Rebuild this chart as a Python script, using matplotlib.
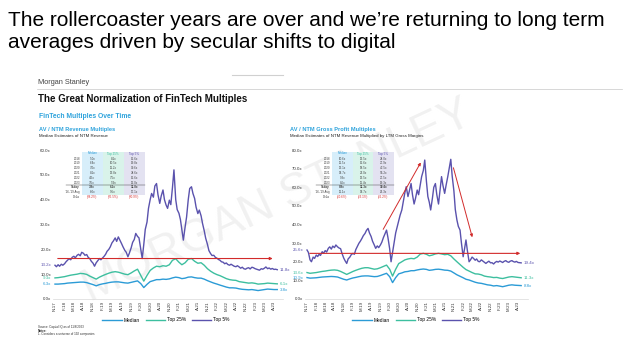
import matplotlib.pyplot as plt
import matplotlib.patches as mpatches
from matplotlib.lines import Line2D
import pandas as pd

plt.rcParams['font.family'] = ['Liberation Sans', 'DejaVu Sans']

W, H = 638, 359

# ---- data ----
months = pd.date_range('2017-11-01', periods=71, freq='MS')
half_months = pd.date_range('2017-11-01', periods=141, freq='SMS')
tick_dates = pd.date_range('2017-11-01', '2023-08-01', freq='3MS')
tick_labels = ['N-17', 'F-18', 'M-18', 'A-18', 'N-18', 'F-19', 'M-19', 'A-19',
               'N-19', 'F-20', 'M-20', 'A-20', 'N-20', 'F-21', 'M-21', 'A-21',
               'N-21', 'F-22', 'M-22', 'A-22', 'N-22', 'F-23', 'M-23', 'A-23']
series_names = ['Median', 'Top 25%', 'Top 5%']

# AV / NTM revenue multiples
rev_top5 = [13.6, 13.0, 13.8, 13.2, 14.0, 13.6, 14.2, 15.0, 15.6, 16.2,
            15.8, 16.8, 17.2, 16.6, 17.6, 18.0, 17.4, 18.8, 18.4, 17.6,
            17.9, 16.8, 16.2, 15.2, 14.4, 13.2, 14.6, 15.4, 16.3, 15.8,
            16.6, 17.2, 18.0, 19.2, 20.0, 21.0, 22.6, 23.4, 24.6, 23.2,
            25.0, 23.8, 22.3, 21.0, 19.6, 18.8, 17.0, 18.5, 20.6, 22.8,
            24.0, 26.4, 25.2, 24.6, 20.0, 16.3, 22.0, 28.0, 31.0, 36.5,
            40.0, 42.5, 41.0, 45.5, 46.5, 42.0, 38.5, 41.5, 43.9, 40.0,
            37.8, 36.5, 39.8, 38.0, 45.0, 52.0, 40.0, 36.0, 34.5, 32.0,
            28.0, 23.7, 29.0, 33.0, 40.0, 44.5, 45.2, 42.5, 40.5, 37.0,
            34.4, 35.8, 33.5, 30.4, 27.5, 24.5, 22.0, 19.5, 18.3, 17.5,
            17.6, 16.8, 16.4, 15.9, 15.6, 15.0, 14.8, 14.2, 14.5, 13.9,
            13.6, 14.0, 13.6, 13.2, 13.0, 13.4, 12.9, 12.4, 12.8, 12.2,
            12.0, 12.4, 12.6, 12.1, 12.8, 12.6, 12.2, 12.0, 11.8, 11.6,
            12.2, 12.0, 12.4, 12.9, 12.2, 12.5, 12.0, 12.3, 11.9, 12.0,
            11.8]
rev_top25 = [8.5, 8.6, 8.8, 9.0, 9.3, 9.6, 9.8, 10.0, 10.3, 10.2,
             9.9, 9.2, 8.6, 8.0, 8.8, 9.4, 9.9, 10.4, 10.8, 11.0,
             10.8, 10.4, 10.0, 9.8, 10.5, 11.3, 12.0, 9.5, 7.2, 9.5,
             11.5, 12.5, 13.2, 13.0, 13.4, 13.2, 13.8, 15.6, 16.2, 14.8,
             13.8, 14.6, 16.0, 16.3, 15.2, 14.4, 14.6, 13.6, 12.2, 11.2,
             10.4, 9.8, 9.4, 8.8, 8.2, 7.8, 7.6, 7.5, 7.0, 6.8,
             6.6, 6.4, 6.5, 6.3, 6.0, 6.1, 6.2, 6.4, 6.3, 6.2,
             6.1]
rev_median = [6.0, 6.0, 6.1, 6.2, 6.4, 6.5, 6.6, 6.7, 6.8, 6.8,
              6.6, 6.2, 5.8, 5.3, 5.8, 6.1, 6.3, 6.6, 6.8, 6.9,
              6.9, 6.7, 6.5, 6.4, 6.7, 7.0, 7.3, 6.2, 4.6, 5.9,
              7.0, 7.4, 7.8, 7.8, 8.0, 7.9, 8.1, 8.5, 8.8, 8.6,
              8.2, 8.4, 8.8, 8.9, 8.6, 8.4, 8.4, 8.0, 7.4, 6.9,
              6.4, 6.0, 5.6, 5.2, 4.8, 4.5, 4.5, 4.4, 4.1, 3.9,
              3.8, 3.7, 3.8, 3.6, 3.4, 3.6, 3.8, 4.0, 3.9, 3.8,
              3.8]

# AV / NTM gross profit multiples
gp_top5 = [26.3, 25.0, 21.0, 20.0, 22.5, 21.8, 23.6, 22.8, 24.0, 23.4,
           25.4, 24.6, 26.0, 25.2, 27.2, 28.0, 26.8, 28.4, 27.6, 29.0,
           28.0, 27.4, 27.0, 24.5, 22.0, 20.5, 19.1, 21.5, 22.5, 23.8,
           24.5, 24.0, 26.5, 28.0, 29.9, 31.0, 32.5, 34.0, 35.2, 36.8,
           37.9, 35.5, 33.5, 31.0, 29.0, 27.2, 28.5, 27.6, 29.0, 30.5,
           33.0, 34.8, 37.0, 33.0, 27.0, 20.0, 25.0, 30.0, 35.5, 38.5,
           42.0, 45.0, 47.8, 52.0, 57.0, 60.3, 55.0, 58.0, 62.0, 56.0,
           51.0, 54.0, 58.5, 56.0, 61.0, 65.7, 69.0, 74.6, 63.0, 55.0,
           52.0, 47.8, 54.0, 60.0, 62.0, 56.0, 51.0, 58.0, 65.7, 61.0,
           56.7, 61.0, 65.7, 70.0, 75.0, 66.0, 58.0, 48.0, 42.4, 39.0,
           37.0, 30.0, 22.7, 27.0, 31.7, 26.0, 20.0, 21.0, 22.5, 21.8,
           20.8, 21.5, 20.2, 20.0, 21.0, 20.4, 19.6, 19.1, 19.8, 20.3,
           19.4, 19.5, 18.8, 19.6, 20.2, 19.8, 20.4, 20.0, 19.6, 20.2,
           20.6, 20.0, 19.7, 20.3, 20.6, 20.1, 19.8, 20.2, 19.6, 19.5,
           19.4]
gp_top25 = [14.2, 13.8, 14.0, 14.2, 14.5, 14.8, 15.0, 15.3, 15.5, 15.6,
            15.4, 14.8, 14.0, 13.2, 14.0, 14.8, 15.4, 16.0, 16.5, 16.8,
            16.8, 16.4, 16.0, 16.2, 16.8, 17.5, 18.2, 16.0, 12.3, 16.0,
            19.0, 20.0, 21.0, 21.5, 21.8, 21.6, 22.5, 24.1, 24.5, 24.0,
            23.2, 23.6, 24.2, 24.5, 24.2, 23.8, 24.0, 23.2, 21.5, 20.0,
            18.5, 17.0, 15.8, 15.0, 14.2, 13.5, 13.4, 13.0, 12.3, 12.0,
            11.8, 11.5, 11.6, 11.2, 11.0, 11.4, 11.8, 12.0, 11.8, 11.6,
            11.4]
gp_median = [11.5, 11.2, 11.3, 11.4, 11.6, 11.8, 11.9, 12.0, 12.1, 12.0,
             11.8, 11.2, 10.6, 10.2, 10.8, 11.3, 11.6, 12.0, 12.3, 12.4,
             12.4, 12.2, 12.0, 12.1, 12.6, 13.2, 13.8, 12.0, 8.8, 11.5,
             13.5, 14.0, 14.6, 14.8, 15.2, 15.2, 15.6, 15.9, 16.1, 15.9,
             15.4, 15.6, 15.9, 16.0, 15.8, 15.5, 15.4, 15.0, 14.0, 13.0,
             12.2, 11.4, 10.6, 10.2, 9.6, 9.0, 8.6, 8.4, 8.0, 7.6,
             7.4, 7.0, 7.2, 6.9, 6.6, 7.0, 7.4, 7.6, 7.4, 7.3,
             7.2]

rev_start_labels = ['6.3x', '9.3x', '13.2x']
rev_end_labels = ['3.8x', '6.1x', '11.8x']
gp_start_labels = ['10.9x', '13.6x', '25.6x']
gp_end_labels = ['8.8x', '11.3x', '19.4x']

rev_avg_line = 16.3
gp_avg_line = 24.5
gp_trend_dates = [('2019-11-15', '2020-12-20'), ('2021-10-20', '2022-05-10')]
gp_trend_values = [(36.1, 74.6), (71.9, 31.7)]

table_rows = ['2018', '2019', '2020', '2021', '2022', '2023', 'Today', "'16-'19 Avg", 'Delta']
rev_tbl_median = ['5.0x', '6.4x', '7.0x', '8.1x', '4.5x', '3.5x', '3.8x', '6.0x', '(38.2%)']
rev_tbl_top25 = ['8.1x', '10.5x', '11.2x', '13.8x', '7.5x', '5.9x', '6.1x', '9.5x', '(35.5%)']
rev_tbl_top5 = ['15.6x', '19.8x', '30.6x', '34.6x', '15.6x', '12.0x', '11.8x', '17.1x', '(30.9%)']
gp_tbl_median = ['10.6x', '11.5x', '13.1x', '14.7x', '9.3x', '8.6x', '8.8x', '11.1x', '(20.6%)']
gp_tbl_top25 = ['13.5x', '15.6x', '18.5x', '22.0x', '13.5x', '11.4x', '11.3x', '14.7x', '(23.1%)']
gp_tbl_top5 = ['24.0x', '27.9x', '42.5x', '55.2x', '27.5x', '19.3x', '19.4x', '26.3x', '(26.2%)']

c_median = '#2b9bd6'
c_top25 = '#3dbf9f'
c_top5 = '#5a52ad'
c_red = '#d22b2b'
c_blue_title = '#2ea3dc'


def fx(x):
    return x / W


def fy(y):
    return 1 - y / H


fig = plt.figure(figsize=(W / 100, H / 100), dpi=100)

# slide headline
fig.text(fx(8), fy(11), 'The rollercoaster years are over and we\u2019re returning to long term\n'
         'averages driven by secular shifts to digital',
         fontsize=15, color='black', ha='left', va='top', linespacing=1.2)
fig.add_artist(Line2D([fx(232), fx(283)], [fy(75), fy(75)], color='#d0d0d0', lw=0.8))

# embedded report page
fig.text(fx(38), fy(82), 'Morgan Stanley', fontsize=5.3, color='#444444', va='center')
fig.add_artist(Line2D([fx(37), fx(622)], [fy(89), fy(89)], color='#c8c8c8', lw=0.5))
fig.text(fx(38), fy(98.5), 'The Great Normalization of FinTech Multiples', fontsize=7,
         fontweight='bold', color='#111111', va='center')
fig.text(fx(39), fy(116), 'FinTech Multiples Over Time', fontsize=4.9,
         fontweight='bold', color=c_blue_title, va='center')

fig.text(0.435, 0.44, 'MORGAN STANLEY', fontsize=33, color='#f1f1f1', rotation=25,
         ha='center', va='center', zorder=-1)


def draw_table(label_right, col_lefts, col_w, cols):
    top, step = 153.5, 4.8
    bg = ['#d7eefa', '#d9f3ea', '#e3e2f1']
    heads = [c_median, c_top25, c_top5]
    for j, left in enumerate(col_lefts):
        fig.add_artist(mpatches.Rectangle((fx(left), fy(194.5)), col_w / W, (194.5 - 151.5) / H,
                                          transform=fig.transFigure, color=bg[j], lw=0, zorder=1))
        fig.text(fx(left + col_w / 2), fy(top), series_names[j], fontsize=2.2,
                 color=heads[j], ha='center', va='center', zorder=2)
    for i, row in enumerate(table_rows):
        y = top + 5 + i * step
        bold = row == 'Today'
        fig.text(fx(label_right), fy(y), row, fontsize=2.2, ha='right', va='center',
                 color='#444444', fontweight='bold' if bold else 'normal', zorder=2)
        for j, left in enumerate(col_lefts):
            fig.text(fx(left + col_w / 2), fy(y), cols[j][i], fontsize=2.2, ha='center', va='center',
                     color=c_red if row == 'Delta' else '#444444',
                     fontweight='bold' if bold else 'normal', zorder=2)
    ly = top + 5 + 5.5 * step
    fig.add_artist(Line2D([fx(label_right - 14), fx(col_lefts[-1] + col_w)], [fy(ly), fy(ly)],
                          color='#333333', lw=0.3, zorder=2))


def draw_chart(rect, xlim, ymax, step, top5, top25, median, start_lbls, end_lbls,
               avg_value, arrow_end, title, subtitle, title_x, legend_x):
    ax = fig.add_axes(rect)
    ax.set_facecolor('none')
    ax.plot(months, median, color=c_median, lw=1.0, label=series_names[0], zorder=3)
    ax.plot(months, top25, color=c_top25, lw=1.0, label=series_names[1], zorder=3)
    ax.plot(half_months, top5, color=c_top5, lw=1.0, label=series_names[2], zorder=3)
    ax.annotate('', xy=(pd.Timestamp(arrow_end), avg_value), xytext=(months[0], avg_value),
                arrowprops=dict(arrowstyle='-|>', color=c_red, lw=0.8, mutation_scale=4), zorder=4)
    ax.set_xlim(pd.Timestamp(xlim[0]), pd.Timestamp(xlim[1]))
    ax.set_ylim(0, ymax)
    ax.set_yticks(range(0, ymax + 1, step))
    ax.set_yticklabels([f'{v:.1f}x' for v in range(0, ymax + 1, step)])
    ax.set_xticks(tick_dates)
    ax.set_xticklabels(tick_labels, rotation=90)
    ax.tick_params(axis='both', length=0, labelsize=3.2, labelcolor='#333333', pad=1.5)
    for s in ['top', 'right', 'left']:
        ax.spines[s].set_visible(False)
    ax.spines['bottom'].set_color('#d9d9d9')
    ax.spines['bottom'].set_linewidth(0.5)
    colors = [c_median, c_top25, c_top5]
    firsts = [median[0], top25[0], top5[0]]
    lasts = [median[-1], top25[-1], top5[-1]]
    for k in range(3):
        ax.annotate(start_lbls[k], xy=(months[0], firsts[k]), xytext=(-2.5, 0),
                    textcoords='offset points', ha='right', va='center', fontsize=3.2,
                    color=colors[k], annotation_clip=False)
        ax.annotate(end_lbls[k], xy=(months[-1], lasts[k]), xytext=(2, 0),
                    textcoords='offset points', ha='left', va='center', fontsize=3.2,
                    color=colors[k], annotation_clip=False)
    fig.text(fx(title_x), fy(129), title, fontsize=4.1, fontweight='bold',
             color=c_blue_title, va='center')
    fig.text(fx(title_x), fy(135.5), subtitle, fontsize=3.2, color='#222222', va='center')
    ax.legend(loc='center', bbox_to_anchor=(fx(legend_x), fy(320)), bbox_transform=fig.transFigure,
              ncol=3, frameon=False, fontsize=3.5, handlelength=4, columnspacing=1.2,
              handletextpad=0.4, borderaxespad=0)
    return ax


ax1 = draw_chart([fx(53), fy(299), (283 - 53) / W, (299 - 150) / H],
                 ('2017-10-13', '2023-10-26'), 60, 10, rev_top5, rev_top25, rev_median,
                 rev_start_labels, rev_end_labels, rev_avg_line, '2023-08-15',
                 'AV / NTM Revenue Multiples', 'Median Estimates of NTM Revenue', 39, 166)
draw_table(80, [82, 103, 124], 20.5, [rev_tbl_median, rev_tbl_top25, rev_tbl_top5])

ax2 = draw_chart([fx(305), fy(299), (528 - 305) / W, (299 - 150) / H],
                 ('2017-10-12', '2023-11-08'), 80, 10, gp_top5, gp_top25, gp_median,
                 gp_start_labels, gp_end_labels, gp_avg_line, '2023-09-20',
                 'AV / NTM Gross Profit Multiples',
                 'Median Estimates of NTM Revenue Multiplied by LTM Gross Margins', 290, 416)
draw_table(330, [332, 353, 373], 20.5, [gp_tbl_median, gp_tbl_top25, gp_tbl_top5])

for (d0, d1), (v0, v1) in zip(gp_trend_dates, gp_trend_values):
    ax2.annotate('', xy=(pd.Timestamp(d1), v1), xytext=(pd.Timestamp(d0), v0),
                 arrowprops=dict(arrowstyle='-|>', color=c_red, lw=0.7, mutation_scale=4), zorder=4)

# footnotes
fig.text(fx(38), fy(327), 'Source: Capital IQ as of 11/8/2023', fontsize=2.2, color='#333333', va='center')
fig.text(fx(38), fy(330.5), 'Notes:', fontsize=2.2, fontweight='bold', color='#333333', va='center')
fig.text(fx(38), fy(334), '1. Considers a universe of 192 companies', fontsize=2.2, color='#333333', va='center')

fig.savefig('out.png', dpi=100)
